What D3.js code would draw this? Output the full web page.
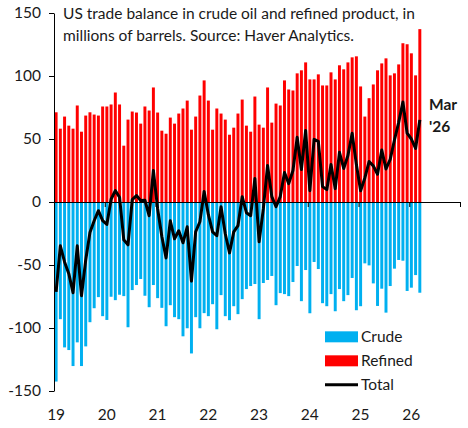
<!DOCTYPE html>
<html>
<head>
<meta charset="utf-8">
<script src="https://cdn.jsdelivr.net/npm/d3@7"></script>
<style>
    body { margin: 0; background: #fff; }
    #chart { width: 468px; height: 428px; }
    text { font-family: Lato, "Open Sans", sans-serif; fill: #1a1a1a; }
</style>
</head>
<body>
<div id="chart"></div>
<script>
// monthly values, Jan 2019 .. Mar 2026 (millions of barrels)
const refined = [
    71.2, 58.2, 67.8, 60.6, 58.2, 76.6, 55.8, 68.6, 71.2, 69.4, 68.6, 75.8,
    75.8, 77.4, 86.9, 77.4, 44.7, 65.4, 71.8, 71.0, 62.2, 75.8, 72.6, 90.9,
    71.0, 56.6, 54.2, 67.0, 62.2, 70.2, 74.2, 80.5, 57.4, 67.8, 84.5, 96.5,
    80.5, 57.4, 74.2, 70.2, 65.4, 53.4, 59.0, 70.2, 81.3, 60.6, 55.8, 83.7,
    61.4, 59.0, 90.9, 63.0, 78.1, 76.6, 96.5, 89.3, 88.5, 102.1, 104.5, 110.8,
    97.3, 97.3, 101.3, 92.5, 92.5, 102.9, 97.3, 108.5, 105.3, 110.8, 114.8, 115.6,
    91.7, 67.8, 82.4, 93.3, 104.5, 110.0, 114.0, 100.5, 102.1, 109.2, 126.0, 125.2,
    118.0, 100.5, 137.2
];
const crude = [
    -142.5, -93.0, -115.4, -117.5, -130.2, -111.4, -130.2, -114.6, -95.4, -84.3, -75.5, -90.6,
    -93.6, -75.2, -77.9, -73.6, -74.7, -99.4, -69.9, -65.9, -61.1, -74.4, -83.5, -65.9,
    -76.3, -84.0, -98.6, -81.9, -91.4, -93.0, -106.6, -100.2, -120.2, -91.4, -100.2, -88.2,
    -90.6, -81.1, -101.0, -73.9, -90.6, -93.8, -82.7, -89.0, -77.1, -69.1, -66.7, -65.1,
    -93.0, -64.3, -61.9, -58.7, -81.9, -72.3, -73.1, -74.7, -63.5, -50.8, -78.7, -54.0,
    -88.3, -47.6, -53.2, -80.3, -82.7, -73.1, -86.7, -69.1, -78.7, -73.9, -60.3, -85.9,
    -82.7, -48.7, -50.3, -64.6, -82.5, -68.8, -87.8, -66.7, -52.9, -46.0, -46.6, -70.6,
    -68.0, -58.0, -72.0
];
const total = [
    -71.3, -34.8, -47.6, -56.9, -72.0, -34.8, -74.4, -46.0, -24.2, -14.9, -6.9, -14.8,
    -17.8, 2.2, 9.0, 3.8, -30.0, -34.0, 1.9, 5.1, 1.1, 1.4, -10.9, 25.0,
    -5.3, -27.4, -44.4, -14.9, -29.2, -22.8, -32.4, -19.7, -62.8, -23.6, -15.7, 8.3,
    -10.1, -23.7, -26.8, -3.7, -25.2, -40.4, -23.7, -18.8, 4.2, -8.5, -10.9, 18.6,
    -31.6, -5.3, 29.0, 4.3, -3.8, 4.3, 23.4, 14.6, 25.0, 51.3, 25.8, 56.8,
    9.0, 49.7, 48.1, 12.2, 9.8, 29.8, 10.6, 39.4, 26.6, 36.9, 54.5, 29.7,
    9.0, 19.1, 32.1, 28.7, 22.0, 41.2, 26.2, 33.8, 49.2, 63.2, 79.4, 54.6,
    50.0, 42.5, 65.2
];
const years = [2019, 2020, 2021, 2022, 2023, 2024, 2025, 2026];
const yearLabels = ["19", "20", "21", "22", "23", "24", "25", "26"];
const yTicks = [-150, -100, -50, 0, 50, 100, 150];
const titleLines = [
    "US trade balance in crude oil and refined product, in",
    "millions of barrels. Source: Haver Analytics."
];
const endLabel = ["Mar", "'26"];
const legendItems = ["Crude", "Refined", "Total"];

class tradeChart {
    constructor(parentElement) {
        this.parentElement = parentElement;
        this.initVis();
    }

    initVis() {
        let vis = this;

        vis.margin = {top: 13, right: 8, bottom: 37, left: 54};
        vis.width = 468 - vis.margin.left - vis.margin.right;
        vis.height = 428 - vis.margin.top - vis.margin.bottom;

        vis.svg = d3.select("#" + vis.parentElement).append("svg")
            .attr("width", 468)
            .attr("height", 428)
            .append("g")
            .attr("transform", `translate(${vis.margin.left},${vis.margin.top})`);

        // all months of the axis, data only fills the first ones
        vis.months = d3.timeMonth.range(new Date(2019, 0, 1), new Date(2027, 0, 1));
        vis.data = refined.map((r, i) => ({
            month: vis.months[i],
            refined: r,
            crude: crude[i],
            total: total[i]
        }));

        vis.xScale = d3.scaleBand()
            .domain(vis.months)
            .range([0, vis.width])
            .paddingInner(0.3)
            .paddingOuter(0.15);
        vis.yearScale = d3.scaleLinear()
            .domain([2019, 2027])
            .range([0, vis.width]);
        vis.yScale = d3.scaleLinear()
            .domain([-150, 150])
            .range([vis.height, 0]);

        vis.updateVis();
    }

    updateVis() {
        let vis = this;
        let fontSize = 15.5;

        // bars
        vis.svg.selectAll(".bar-refined")
            .data(vis.data)
            .enter()
            .append("rect")
            .attr("class", "bar-refined")
            .attr("x", d => vis.xScale(d.month))
            .attr("width", vis.xScale.bandwidth())
            .attr("y", d => vis.yScale(d.refined))
            .attr("height", d => vis.yScale(0) - vis.yScale(d.refined))
            .attr("fill", "#FF0000");

        vis.svg.selectAll(".bar-crude")
            .data(vis.data)
            .enter()
            .append("rect")
            .attr("class", "bar-crude")
            .attr("x", d => vis.xScale(d.month))
            .attr("width", vis.xScale.bandwidth())
            .attr("y", vis.yScale(0))
            .attr("height", d => vis.yScale(d.crude) - vis.yScale(0))
            .attr("fill", "#00B0F0");

        // y axis
        let yAxis = vis.svg.append("g")
            .attr("class", "axis axis-y")
            .call(d3.axisLeft(vis.yScale)
                .tickValues(yTicks)
                .tickSize(5)
                .tickSizeOuter(0)
                .tickPadding(8)
                .tickFormat(d => d));
        yAxis.selectAll("text").style("font-size", fontSize + "px").attr("fill", "#1a1a1a");
        yAxis.selectAll("line, path").attr("stroke", "#000");

        // x axis along zero
        let xAxis = vis.svg.append("g")
            .attr("class", "axis axis-x")
            .attr("transform", `translate(0,${vis.yScale(0)})`)
            .call(d3.axisBottom(vis.yearScale)
                .tickValues(d3.range(2019, 2028))
                .tickSize(5)
                .tickSizeOuter(0)
                .tickFormat(""));
        xAxis.selectAll("line, path").attr("stroke", "#000");

        // year labels at the bottom
        vis.svg.selectAll(".year-label")
            .data(years)
            .enter()
            .append("text")
            .attr("class", "year-label")
            .attr("x", (d, i) => vis.xScale(new Date(d, 0, 1)) + vis.xScale.bandwidth() / 2)
            .attr("y", vis.height + 29)
            .attr("text-anchor", "middle")
            .style("font-size", fontSize + "px")
            .text((d, i) => yearLabels[i]);

        // total line
        vis.line = d3.line()
            .x(d => vis.xScale(d.month) + vis.xScale.bandwidth() / 2)
            .y(d => vis.yScale(d.total));

        vis.svg.append("path")
            .datum(vis.data)
            .attr("class", "line")
            .attr("fill", "none")
            .attr("stroke", "#000")
            .attr("stroke-width", 3)
            .attr("stroke-linejoin", "round")
            .attr("d", vis.line);

        // title
        vis.svg.selectAll(".title")
            .data(titleLines)
            .enter()
            .append("text")
            .attr("class", "title")
            .attr("x", 9)
            .attr("y", (d, i) => 6 + i * 22)
            .style("font-size", fontSize + "px")
            .text(d => d);

        // label for the last month
        vis.svg.selectAll(".end-label")
            .data(endLabel)
            .enter()
            .append("text")
            .attr("class", "end-label")
            .attr("x", 375)
            .attr("y", (d, i) => 97 + i * 22)
            .style("font-size", fontSize + "px")
            .style("font-weight", "bold")
            .text(d => d);

        // legend
        let legend = vis.svg.append("g")
            .attr("transform", `translate(271, ${vis.yScale(-107)})`);
        let colors = ["#00B0F0", "#FF0000", "#000"];
        legendItems.forEach((name, i) => {
            let g = legend.append("g").attr("transform", `translate(0, ${i * 24})`);
            if (i < 2) {
                g.append("rect")
                    .attr("x", 0).attr("y", -5.5)
                    .attr("width", 33).attr("height", 11)
                    .attr("fill", colors[i]);
            } else {
                g.append("line")
                    .attr("x1", 0).attr("x2", 33)
                    .attr("stroke", colors[i])
                    .attr("stroke-width", 3);
            }
            g.append("text")
                .attr("x", 36)
                .attr("dy", "0.35em")
                .style("font-size", fontSize + "px")
                .text(name);
        });
    }
}

new tradeChart("chart");
</script>
</body>
</html>
